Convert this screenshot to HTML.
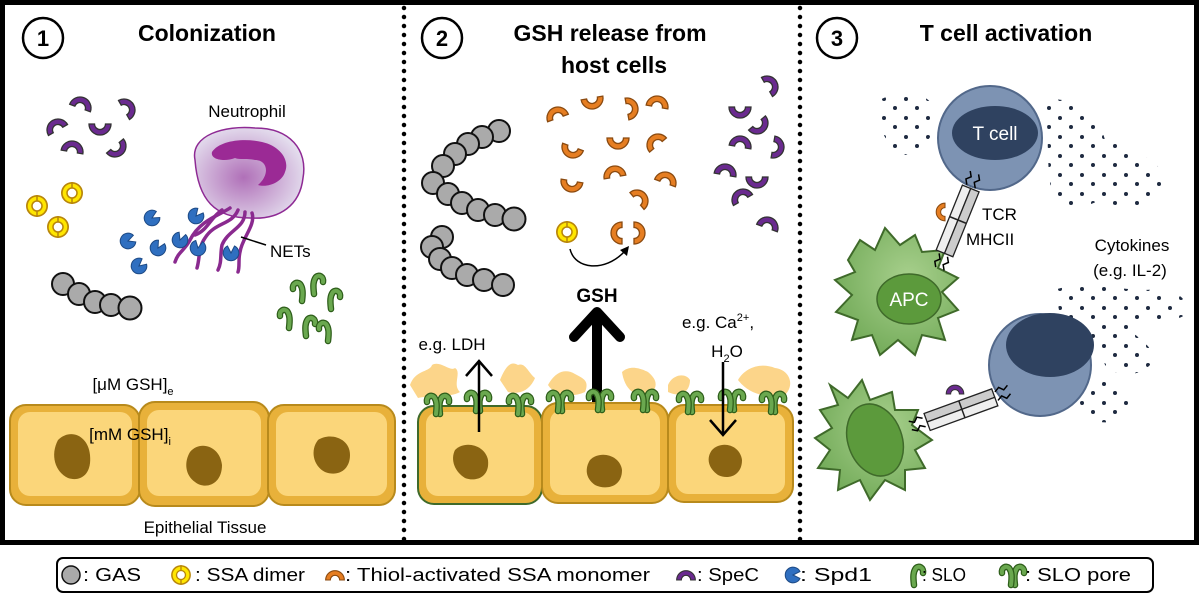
<!DOCTYPE html>
<html><head><meta charset="utf-8"><style>
html,body{margin:0;padding:0;background:#fff;}
svg{display:block;font-family:"Liberation Sans",sans-serif;}
</style></head><body>
<svg width="1200" height="594" viewBox="0 0 1200 594" xmlns="http://www.w3.org/2000/svg">
<defs>
<g id="arcO"><path d="M-11,0 A11,11 0 0 1 11,0 L5.5,0 A5.5,5.5 0 0 0 -5.5,0 Z" fill="#e67e22" stroke="#8a4a10" stroke-width="1.3"/></g>
<g id="arcP"><path d="M-11,0 A11,11 0 0 1 11,0 L5.5,0 A5.5,5.5 0 0 0 -5.5,0 Z" fill="#6a2a8f" stroke="#333" stroke-width="1.3"/></g>
<g id="ssa"><circle r="11" fill="#b8860b"/><circle r="9.3" fill="#ffe600"/><circle r="5" fill="#fff" stroke="#b8860b" stroke-width="1.5"/><path d="M0,-11 V-5 M0,5 V11" stroke="#b8860b" stroke-width="1.5"/></g>
<g id="spd"><path d="M0,0 L7,-3.5 A7.8,7.8 0 1 0 7,3.5 Z" fill="#2f6fc0" stroke="#1d4a85" stroke-width="1"/></g>
<g id="slo"><path d="M-2,10 C-3,2 -3,-3 0,-7 C3,-10 8,-7 7,-2" fill="none" stroke="#2e5e1a" stroke-width="6.5" stroke-linecap="round"/><path d="M-2,10 C-3,2 -3,-3 0,-7 C3,-10 8,-7 7,-2" fill="none" stroke="#6aa84f" stroke-width="4" stroke-linecap="round"/></g>
<g id="pore"><use href="#slo" transform="translate(4,0)"/><use href="#slo" transform="translate(-4,0) scale(-1,1)"/></g>
<radialGradient id="neu" cx="0.45" cy="0.55" r="0.6"><stop offset="0" stop-color="#b070b8"/><stop offset="1" stop-color="#e6e2f0"/></radialGradient>
<radialGradient id="apc" cx="0.6" cy="0.4" r="0.7"><stop offset="0" stop-color="#a8d08d"/><stop offset="1" stop-color="#6fa855"/></radialGradient>
<pattern id="dots" width="22" height="19" patternUnits="userSpaceOnUse"><circle cx="4" cy="4" r="2" fill="#1e2a40"/><circle cx="15" cy="13" r="2" fill="#1e2a40"/></pattern>
</defs>

<rect x="2.5" y="2.5" width="1194" height="540" fill="#fff" stroke="#000" stroke-width="5"/>
<line x1="404" y1="8" x2="404" y2="540" stroke="#000" stroke-width="4.5" stroke-dasharray="0 9" stroke-linecap="round"/>
<line x1="800" y1="8" x2="800" y2="540" stroke="#000" stroke-width="4.5" stroke-dasharray="0 9" stroke-linecap="round"/>

<!-- Panel 1 -->
<circle cx="43" cy="38" r="20" fill="#fff" stroke="#000" stroke-width="2.5"/>
<text x="43" y="46" font-size="22" font-weight="bold" text-anchor="middle">1</text>
<text x="207" y="41" font-size="23" font-weight="bold" text-anchor="middle">Colonization</text>
<use href="#arcP" transform="translate(80,108) rotate(20)"/>
<use href="#arcP" transform="translate(124,110) rotate(60)"/>
<use href="#arcP" transform="translate(58,130) rotate(-30)"/>
<use href="#arcP" transform="translate(100,124) rotate(180)"/>
<use href="#arcP" transform="translate(72,152) rotate(10)"/>
<use href="#arcP" transform="translate(115,146) rotate(140)"/>
<use href="#ssa" transform="translate(37,206)"/>
<use href="#ssa" transform="translate(72,193)"/>
<use href="#ssa" transform="translate(58,227)"/>
<text x="247" y="117" font-size="17" text-anchor="middle">Neutrophil</text>
<path d="M195,160 C190,135 225,125 255,128 C290,128 308,150 303,178 C300,205 280,220 250,218 C215,218 198,200 195,160 Z" fill="url(#neu)" stroke="#8e2a94" stroke-width="1.5"/>
<path d="M212,152 C220,140 245,138 262,142 C280,146 290,160 285,172 C282,182 268,188 258,185 C270,175 268,160 255,160 C245,158 240,160 235,158 C225,162 210,160 212,152 Z" fill="#9b2a95"/>
<g fill="none" stroke="#8a2a8f" stroke-width="3.5" stroke-linecap="round">
<path d="M230,208 C220,215 200,220 190,240 C185,250 178,252 175,262"/>
<path d="M238,210 C232,225 215,222 205,238 C198,248 200,258 197,268"/>
<path d="M245,212 C245,228 228,230 222,245 C220,255 222,262 218,270"/>
<path d="M252,213 C256,225 242,238 240,252 C238,260 240,266 238,272"/>
<path d="M222,210 C210,218 208,230 195,235"/>
</g>
<line x1="241" y1="237" x2="266" y2="245" stroke="#000" stroke-width="1.5"/>
<text x="270" y="257" font-size="17">NETs</text>
<use href="#spd" transform="translate(152,218) rotate(-30)"/>
<use href="#spd" transform="translate(128,241) rotate(-20)"/>
<use href="#spd" transform="translate(139,266) rotate(-40)"/>
<use href="#spd" transform="translate(158,248) rotate(-60)"/>
<use href="#spd" transform="translate(180,240) rotate(-70)"/>
<use href="#spd" transform="translate(196,216) rotate(-50)"/>
<use href="#spd" transform="translate(198,248) rotate(-80)"/>
<use href="#spd" transform="translate(231,253) rotate(-90)"/>
<g fill="#aaa" stroke="#111" stroke-width="2">
<circle cx="63" cy="284" r="11"/><circle cx="79" cy="294" r="11"/><circle cx="95" cy="302" r="11"/><circle cx="111" cy="305" r="11"/><circle cx="130" cy="308" r="11.5"/>
</g>
<use href="#slo" transform="translate(300,291) scale(-1,1)"/>
<use href="#slo" transform="translate(316,284)"/>
<use href="#slo" transform="translate(333,299)"/>
<use href="#slo" transform="translate(287,318) scale(-1,1)"/>
<use href="#slo" transform="translate(308,326)"/>
<use href="#slo" transform="translate(326,331) scale(-1,1)"/>
<text x="133" y="390" font-size="17" text-anchor="middle">[μM GSH]<tspan font-size="11" dy="5">e</tspan></text>

<g stroke="#b88a1c" stroke-width="2">
<rect x="10" y="405" width="130" height="100" rx="16" fill="#e8b13a"/>
<rect x="139" y="402" width="130" height="104" rx="16" fill="#e8b13a"/>
<rect x="268" y="405" width="127" height="100" rx="16" fill="#e8b13a"/>
</g>
<g fill="#fbd67a">
<rect x="18" y="412" width="114" height="84" rx="12"/>
<rect x="147" y="410" width="114" height="86" rx="12"/>
<rect x="276" y="412" width="111" height="84" rx="12"/>
</g>
<g fill="#8a6412">
<path d="M58,440 C70,428 88,435 90,455 C92,475 80,482 68,478 C55,472 50,455 58,440 Z"/>
<path d="M190,452 C200,440 220,446 222,465 C222,485 205,490 195,482 C185,475 184,462 190,452 Z"/>
<path d="M318,440 C330,432 350,438 350,455 C350,470 338,477 325,472 C313,466 310,450 318,440 Z"/>
</g>
<text x="130" y="440" font-size="17" text-anchor="middle">[mM GSH]<tspan font-size="11" dy="5">i</tspan></text>
<text x="205" y="533" font-size="17" text-anchor="middle">Epithelial Tissue</text>

<!-- Panel 2 -->
<circle cx="442" cy="38" r="20" fill="#fff" stroke="#000" stroke-width="2.5"/>
<text x="442" y="46" font-size="22" font-weight="bold" text-anchor="middle">2</text>
<text x="610" y="41" font-size="23" font-weight="bold" text-anchor="middle">GSH release from</text>
<text x="614" y="73" font-size="23" font-weight="bold" text-anchor="middle">host cells</text>
<g fill="#aaa" stroke="#111" stroke-width="2">
<circle cx="499" cy="131" r="11"/><circle cx="482" cy="137" r="11"/><circle cx="468" cy="144" r="11"/><circle cx="455" cy="154" r="11"/><circle cx="443" cy="166" r="11"/><circle cx="433" cy="183" r="11"/><circle cx="448" cy="194" r="11"/><circle cx="462" cy="203" r="11"/><circle cx="478" cy="210" r="11"/><circle cx="495" cy="215" r="11"/><circle cx="514" cy="219" r="11.5"/>
<circle cx="442" cy="237" r="11"/><circle cx="432" cy="247" r="11"/><circle cx="440" cy="259" r="11"/><circle cx="452" cy="268" r="11"/><circle cx="467" cy="275" r="11"/><circle cx="484" cy="280" r="11"/><circle cx="503" cy="285" r="11"/>
</g>
<use href="#arcO" transform="translate(558,118) rotate(-20)"/>
<use href="#arcO" transform="translate(592,98) rotate(170)"/>
<use href="#arcO" transform="translate(627,109) rotate(80)"/>
<use href="#arcO" transform="translate(657,107) rotate(10)"/>
<use href="#arcO" transform="translate(573,147) rotate(200)"/>
<use href="#arcO" transform="translate(618,138) rotate(180)"/>
<use href="#arcO" transform="translate(658,145) rotate(-40)"/>
<use href="#arcO" transform="translate(572,181) rotate(190)"/>
<use href="#arcO" transform="translate(615,177) rotate(-10)"/>
<use href="#arcO" transform="translate(665,183) rotate(20)"/>
<use href="#arcO" transform="translate(637,201) rotate(50)"/>
<use href="#arcO" transform="translate(622,233) rotate(-90)"/>
<use href="#arcO" transform="translate(634,233) rotate(90)"/>
<use href="#ssa" transform="translate(567,232)"/>
<path d="M570,249 C575,270 605,272 624,252" fill="none" stroke="#000" stroke-width="1.5"/>
<path d="M629,246 L620,250 L627,256 Z" fill="#000"/>
<use href="#arcP" transform="translate(767,87) rotate(60)"/>
<use href="#arcP" transform="translate(740,107) rotate(180)"/>
<use href="#arcP" transform="translate(757,123) rotate(140)"/>
<use href="#arcP" transform="translate(740,147) rotate(10)"/>
<use href="#arcP" transform="translate(773,147) rotate(100)"/>
<use href="#arcP" transform="translate(725,175) rotate(10)"/>
<use href="#arcP" transform="translate(757,177) rotate(180)"/>
<use href="#arcP" transform="translate(743,200) rotate(-30)"/>
<use href="#arcP" transform="translate(767,228) rotate(20)"/>
<text x="597" y="302" font-size="19" font-weight="bold" text-anchor="middle">GSH</text>
<line x1="597" y1="435" x2="597" y2="318" stroke="#000" stroke-width="10" stroke-linecap="round"/>
<path d="M574,337 L597,312 L620,337" fill="none" stroke="#000" stroke-width="10" stroke-linecap="round" stroke-linejoin="round"/>
<text x="452" y="350" font-size="17" text-anchor="middle">e.g. LDH</text>
<text x="718" y="328" font-size="17" text-anchor="middle">e.g. Ca<tspan font-size="11" dy="-7">2+</tspan><tspan dy="7">,</tspan></text>
<text x="727" y="357" font-size="17" text-anchor="middle">H<tspan font-size="11" dy="5">2</tspan><tspan dy="-5">O</tspan></text>
<g fill="#fcd58a">
<path d="M410,385 C415,370 430,372 432,365 C440,360 450,372 455,368 C462,372 452,385 460,392 C450,398 430,395 418,398 Z"/>
<path d="M500,380 C505,368 510,360 518,365 C525,362 528,372 535,378 C530,390 520,395 508,392 Z"/>
<path d="M548,385 C555,372 565,368 575,374 C582,378 590,380 585,392 C572,398 555,396 548,385 Z"/>
<path d="M622,372 C630,365 640,368 648,372 C655,378 660,385 650,395 C638,398 625,392 622,372 Z"/>
<path d="M668,385 C672,375 685,372 690,380 C690,392 680,398 668,392 Z"/>
<path d="M738,380 C745,368 760,362 775,368 C790,370 795,385 785,395 C770,398 750,396 738,380 Z"/>
</g>
<g stroke="#b88a1c" stroke-width="2">
<rect x="418" y="406" width="124" height="98" rx="16" fill="#e8b13a" stroke="#3f6a2a"/>
<rect x="542" y="403" width="126" height="100" rx="16" fill="#e8b13a"/>
<rect x="668" y="405" width="125" height="97" rx="16" fill="#e8b13a"/>
</g>
<g fill="#fbd67a">
<rect x="426" y="412" width="108" height="84" rx="12"/>
<rect x="550" y="410" width="110" height="85" rx="12"/>
<rect x="676" y="412" width="109" height="82" rx="12"/>
</g>
<g fill="#8a6412">
<path d="M455,450 C465,440 485,445 488,460 C490,478 475,482 465,478 C455,472 450,460 455,450 Z"/>
<path d="M590,460 C600,450 620,455 622,470 C622,488 605,490 595,485 C585,478 585,468 590,460 Z"/>
<path d="M712,450 C722,440 740,445 742,460 C742,476 728,480 718,475 C708,468 706,458 712,450 Z"/>
</g>
<use href="#pore" transform="translate(438,404)"/>
<use href="#pore" transform="translate(478,401)"/>
<use href="#pore" transform="translate(520,404)"/>
<use href="#pore" transform="translate(560,401)"/>
<use href="#pore" transform="translate(600,400)"/>
<use href="#pore" transform="translate(645,400)"/>
<use href="#pore" transform="translate(690,402)"/>
<use href="#pore" transform="translate(732,400)"/>
<use href="#pore" transform="translate(773,402)"/>
<line x1="479" y1="432" x2="479" y2="362" stroke="#000" stroke-width="2.5"/>
<path d="M466,376 L479,361 L492,376" fill="none" stroke="#000" stroke-width="2.5"/>
<line x1="723" y1="362" x2="723" y2="433" stroke="#000" stroke-width="2.5"/>
<path d="M710,420 L723,435 L736,420" fill="none" stroke="#000" stroke-width="2.5"/>

<!-- Panel 3 -->
<circle cx="837" cy="38" r="20" fill="#fff" stroke="#000" stroke-width="2.5"/>
<text x="837" y="46" font-size="22" font-weight="bold" text-anchor="middle">3</text>
<text x="1006" y="41" font-size="23" font-weight="bold" text-anchor="middle">T cell activation</text>
<g fill="url(#dots)">
<path d="M880,100 C900,88 930,92 935,110 C940,130 925,150 905,155 C885,150 875,120 880,100 Z"/>
<path d="M1045,100 C1080,95 1100,120 1105,140 C1130,150 1170,160 1165,190 C1160,210 1120,210 1100,200 C1080,210 1060,215 1055,200 C1045,180 1050,140 1045,100 Z"/>
<path d="M1055,290 C1080,280 1120,290 1145,290 C1180,288 1190,300 1185,315 C1170,325 1140,320 1130,330 C1140,340 1160,350 1150,365 C1140,375 1120,380 1105,365 C1100,345 1075,330 1060,315 Z"/>
<path d="M1075,380 C1090,372 1115,380 1130,395 C1135,410 1120,425 1100,422 C1085,418 1075,400 1075,380 Z"/>
</g>
<circle cx="990" cy="138" r="52" fill="#7d93b3" stroke="#52688a" stroke-width="2"/>
<ellipse cx="995" cy="133" rx="43" ry="27" fill="#2f4260"/>
<text x="995" y="140" font-size="19" fill="#fff" text-anchor="middle">T cell</text>
<path d="M848,260 L860,240 L875,250 L885,228 L900,245 L915,235 L922,252 L945,250 L938,268 L958,278 L942,292 L958,310 L938,318 L945,340 L922,335 L915,355 L898,340 L880,355 L872,335 L852,340 L858,320 L836,312 L852,295 L835,280 L855,272 Z" fill="url(#apc)" stroke="#3f6a2a" stroke-width="2"/>
<ellipse cx="909" cy="299" rx="32" ry="25" fill="#5c9a3c" stroke="#3f6a2a" stroke-width="1.5"/>
<text x="909" y="306" font-size="19" fill="#fff" text-anchor="middle">APC</text>
<g transform="rotate(22 958 220)">
<rect x="949" y="186" width="9" height="70" fill="#eee" stroke="#222" stroke-width="1.3"/>
<rect x="958" y="186" width="9" height="70" fill="#ccc" stroke="#222" stroke-width="1.3"/>
<line x1="949" y1="220" x2="967" y2="220" stroke="#222" stroke-width="1.5"/>
<path d="M953,184 l-3,-5 4,-4 -3,-5 M962,184 l-3,-5 4,-4 -3,-5 M953,258 l3,5 -4,4 3,5 M962,258 l3,5 -4,4 3,5" fill="none" stroke="#000" stroke-width="1.5"/>
</g>
<use href="#arcO" transform="translate(945,212) rotate(-90) scale(0.8)"/>
<text x="982" y="220" font-size="17">TCR</text>
<text x="966" y="245" font-size="17">MHCII</text>
<text x="1132" y="251" font-size="17" text-anchor="middle">Cytokines</text>
<text x="1130" y="276" font-size="17" text-anchor="middle">(e.g. IL-2)</text>
<circle cx="1040" cy="365" r="51" fill="#7d93b3" stroke="#52688a" stroke-width="2"/>
<ellipse cx="1050" cy="345" rx="44" ry="32" fill="#2f4260"/>
<path d="M830,385 L848,398 L862,380 L870,400 L892,392 L895,410 L918,410 L912,425 L932,440 L915,450 L925,468 L905,470 L905,490 L885,480 L870,500 L860,480 L838,490 L840,470 L818,468 L830,450 L815,438 L832,428 L820,410 L838,405 Z" fill="url(#apc)" stroke="#3f6a2a" stroke-width="2"/>
<ellipse cx="875" cy="440" rx="27" ry="37" fill="#5c9a3c" stroke="#3f6a2a" stroke-width="1.5" transform="rotate(-20 875 440)"/>
<g transform="rotate(-20 960 410)">
<rect x="925" y="401" width="72" height="9" fill="#ccc" stroke="#222" stroke-width="1.3"/>
<rect x="925" y="410" width="72" height="9" fill="#eee" stroke="#222" stroke-width="1.3"/>
<line x1="962" y1="401" x2="962" y2="419" stroke="#222" stroke-width="1.5"/>
<path d="M922,405 l-5,-3 -4,4 -5,-3 M922,414 l-5,-3 -4,4 -5,-3 M999,405 l5,-3 4,4 5,-3 M999,414 l5,-3 4,4 5,-3" fill="none" stroke="#000" stroke-width="1.5"/>
</g>
<use href="#arcP" transform="translate(955,394) scale(0.8)"/>

<!-- legend -->
<rect x="57" y="558" width="1096" height="34" rx="6" fill="#fff" stroke="#000" stroke-width="2"/>
<g font-size="18">
<circle cx="71" cy="575" r="9" fill="#aaa" stroke="#111" stroke-width="1.5"/>
<text x="83" y="581" textLength="58" lengthAdjust="spacingAndGlyphs">: GAS</text>
<use href="#ssa" transform="translate(181,575) scale(0.9)"/>
<text x="195" y="581" textLength="110" lengthAdjust="spacingAndGlyphs">: SSA dimer</text>
<use href="#arcO" transform="translate(335,580) scale(0.85)"/>
<text x="345" y="581" textLength="305" lengthAdjust="spacingAndGlyphs">: Thiol-activated SSA monomer</text>
<use href="#arcP" transform="translate(686,580) scale(0.85)"/>
<text x="697" y="581" textLength="62" lengthAdjust="spacingAndGlyphs">: SpeC</text>
<use href="#spd" transform="translate(793,575)"/>
<text x="800" y="581" textLength="72" lengthAdjust="spacingAndGlyphs">: Spd1</text>
<use href="#slo" transform="translate(916,575)"/>
<text x="922" y="581" textLength="44" lengthAdjust="spacingAndGlyphs">: SLO</text>
<use href="#pore" transform="translate(1013,575)"/>
<text x="1025" y="581" textLength="106" lengthAdjust="spacingAndGlyphs">: SLO pore</text>
</g>
</svg>
</body></html>
